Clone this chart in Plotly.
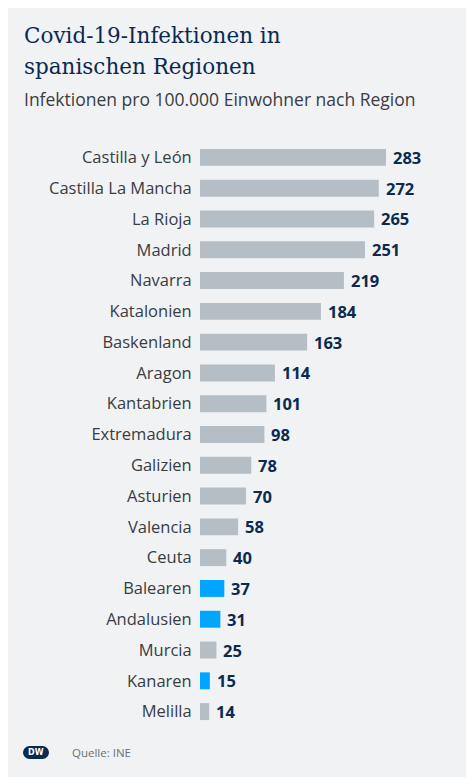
import plotly.graph_objects as go

# data
regions = ["Castilla y León", "Castilla La Mancha", "La Rioja", "Madrid", "Navarra",
           "Katalonien", "Baskenland", "Aragon", "Kantabrien", "Extremadura",
           "Galizien", "Asturien", "Valencia", "Ceuta", "Balearen", "Andalusien",
           "Murcia", "Kanaren", "Melilla"]
infections = [283, 272, 265, 251, 219, 184, 163, 114, 101, 98, 78, 70, 58, 40, 37, 31, 25, 15, 14]
highlighted = ["Balearen", "Andalusien", "Kanaren"]
title_lines = ["Covid-19-Infektionen in", "spanischen Regionen"]

GREY = "#b5bdc5"
BLUE = "#00a5ff"
NAVY = "#0b2a50"
BG = "#f1f2f4"

# the page body adds an 8px margin, so the figure is a bit smaller than the window
W, H = 466, 773
L, T, PW, PH = 192, 134, 254, 585

def px_x(x):
    return (x - L) / PW

def px_y(y):
    return 1 - (y - T) / PH

bar_colors = [BLUE if r in highlighted else GREY for r in regions]

fig = go.Figure()
fig.add_trace(go.Bar(
    y=regions,
    x=infections,
    orientation="h",
    marker=dict(color=bar_colors, line=dict(width=0)),
    hoverinfo="skip",
))

# value labels right of each bar
for r, v in zip(regions, infections):
    fig.add_annotation(
        x=v, y=r, xref="x", yref="y",
        text=f"<b>{v}</b>", showarrow=False,
        xanchor="left", xshift=5,
        font=dict(family="Open Sans", size=16.5, color=NAVY),
    )

# panel background
fig.add_shape(type="rect", xref="paper", yref="paper",
              x0=px_x(0), x1=px_x(463), y0=px_y(769), y1=px_y(0),
              fillcolor=BG, line=dict(width=0), layer="below")

fig.update_layout(
    width=W, height=H,
    margin=dict(l=L, r=W - L - PW, t=T, b=H - T - PH),
    paper_bgcolor="white",
    plot_bgcolor=BG,
    showlegend=False,
    bargap=0.45,
    font=dict(family="Open Sans", size=16.5, color="#383d43"),
    xaxis=dict(range=[0, 386.5], visible=False, fixedrange=True),
    yaxis=dict(
        autorange="reversed",
        showgrid=False, zeroline=False, showline=False,
        ticks="outside", ticklen=4, tickcolor="rgba(0,0,0,0)",
        tickfont=dict(family="Open Sans", size=16.5, color="#383d43"),
    ),
)

# title (two lines, ~30px apart), subtitle and footer
for i, line in enumerate(title_lines):
    fig.add_annotation(
        xref="paper", yref="paper", x=px_x(14), y=px_y(28 + 30 * i),
        xanchor="left", yanchor="middle", align="left", showarrow=False,
        text=line,
        font=dict(family="DejaVu Serif", size=21.5, color=NAVY),
    )
fig.add_annotation(
    xref="paper", yref="paper", x=px_x(14), y=px_y(91),
    xanchor="left", yanchor="middle", showarrow=False,
    text="Infektionen pro 100.000 Einwohner nach Region",
    font=dict(family="Open Sans", size=17.5, color="#383d43"),
)
fig.add_shape(type="circle", xref="paper", yref="paper",
              x0=px_x(15), x1=px_x(28), y0=px_y(751), y1=px_y(738),
              fillcolor=NAVY, line=dict(width=0))
fig.add_shape(type="circle", xref="paper", yref="paper",
              x0=px_x(28), x1=px_x(41), y0=px_y(751), y1=px_y(738),
              fillcolor=NAVY, line=dict(width=0))
fig.add_shape(type="rect", xref="paper", yref="paper",
              x0=px_x(21), x1=px_x(35), y0=px_y(751), y1=px_y(738),
              fillcolor=NAVY, line=dict(width=0))
fig.add_annotation(
    xref="paper", yref="paper", x=px_x(28), y=px_y(744.5),
    xanchor="center", yanchor="middle", showarrow=False,
    text="<b>DW</b>", font=dict(family="DejaVu Sans", size=8, color="white"),
)
fig.add_annotation(
    xref="paper", yref="paper", x=px_x(62), y=px_y(744),
    xanchor="left", yanchor="middle", showarrow=False,
    text="Quelle: INE", font=dict(family="Open Sans", size=11.5, color="#6b7178"),
)

fig.write_html("out.html", config={"displayModeBar": False})
